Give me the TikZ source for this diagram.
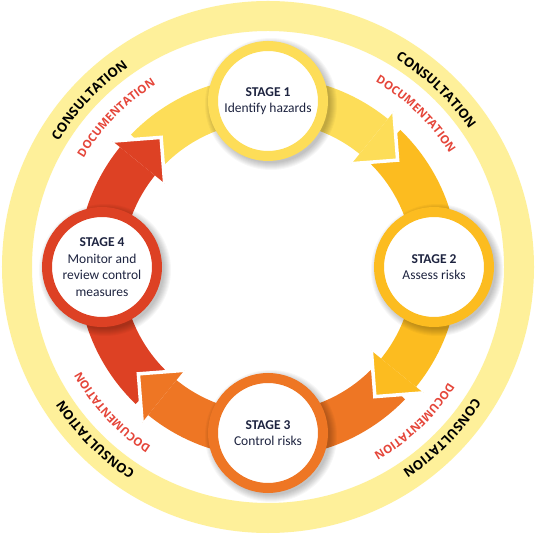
\documentclass[tikz,border=0pt]{standalone}
\usepackage{fontspec}
\setmainfont{Carlito}
\newfontfamily\arcfont{Open Sans}
\usetikzlibrary{decorations.text,calc}
\definecolor{ringY}{HTML}{FEF09A}
\definecolor{cA}{HTML}{FDDD58}
\definecolor{cB}{HTML}{FCBC20}
\definecolor{cC}{HTML}{EE7624}
\definecolor{cD}{HTML}{DD4124}
\definecolor{docred}{HTML}{E5463A}
\definecolor{navy}{HTML}{1E2440}
\newcommand\bandbody[2]{%
  \fill[#2] ({#1+46}:190.5) arc[start angle={#1+46}, end angle={#1-39}, radius=190.5]
    -- ({#1-39}:145.5) arc[start angle={#1-39}, end angle={#1+46}, radius=145.5] -- cycle;}
\newcommand\bandhead[2]{%
  \fill[#2] ({#1-39}:200) -- ({#1-50.5}:168) -- ({#1-39}:133) -- cycle;
  \draw[headline] ({#1-39}:200) -- ({#1-50.5}:168) -- ({#1-39}:133);}
\newcommand\arctext[3]{%
  \path[decorate, decoration={text along path, text align=center, text={#3}}]
    ({#1+40}:#2) arc[start angle={#1+40}, end angle={#1-40}, radius=#2];}
\begin{document}
\begin{tikzpicture}[x=1pt,y=1pt,
  headline/.style={white, line width=3.5pt, line join=miter},
  stagenode/.style={circle, fill=white, line width=10pt, minimum size=110pt, inner sep=0pt,
    align=center, text=navy, font=\fontsize{13.5}{16.5}\selectfont}]
\useasboundingbox (-268,-286) rectangle (280,267);
\fill[white] (-268,-286) rectangle (280,267);
% outer consultation ring
\fill[ringY, even odd rule] (0,0) circle[radius=266] (0,0) circle[radius=236];
% arrow bands
\bandbody{90}{cA}
\bandbody{0}{cB}
\bandbody{-90}{cC}
\bandbody{180}{cD}
\bandhead{90}{cA}
\bandhead{0}{cB}
\bandhead{-90}{cC}
\bandhead{180}{cD}
% shadows
\foreach \a in {90,0,-90,180}{
  \foreach \k in {1,...,8}{
    \fill[black, opacity=0.03] ($(\a:166)+(3,-3)$) circle[radius={58+\k}];
  }
}
% stages
\node[stagenode, draw=cA] (s1) at (90:166) {\textbf{STAGE 1}\\Identify hazards};
\node[stagenode, draw=cB] (s2) at (0:166) {\textbf{STAGE 2}\\Assess risks};
\node[stagenode, draw=cC] (s3) at (-90:166) {\textbf{STAGE 3}\\Control risks};
\node[stagenode, draw=cD] (s4) at (180:166) {\textbf{STAGE 4}\\Monitor and\\review control\\measures};
% curved labels
\arctext{137}{244}{|\arcfont\fontsize{13}{13}\selectfont\bfseries|CONSULTATION}
\arctext{46.5}{244}{|\arcfont\fontsize{13}{13}\selectfont\bfseries|CONSULTATION}
\arctext{-44.5}{244}{|\arcfont\fontsize{13}{13}\selectfont\bfseries|CONSULTATION}
\arctext{-135}{244}{|\arcfont\fontsize{13}{13}\selectfont\bfseries|CONSULTATION}
\arctext{135.5}{214}{|\arcfont\fontsize{11.5}{11.5}\selectfont\bfseries\color{docred}|DOCUMENTATION}
\arctext{46}{214}{|\arcfont\fontsize{11.5}{11.5}\selectfont\bfseries\color{docred}|DOCUMENTATION}
\arctext{-46.5}{214}{|\arcfont\fontsize{11.5}{11.5}\selectfont\bfseries\color{docred}|DOCUMENTATION}
\arctext{-137}{214}{|\arcfont\fontsize{11.5}{11.5}\selectfont\bfseries\color{docred}|DOCUMENTATION}
\end{tikzpicture}
\end{document}
